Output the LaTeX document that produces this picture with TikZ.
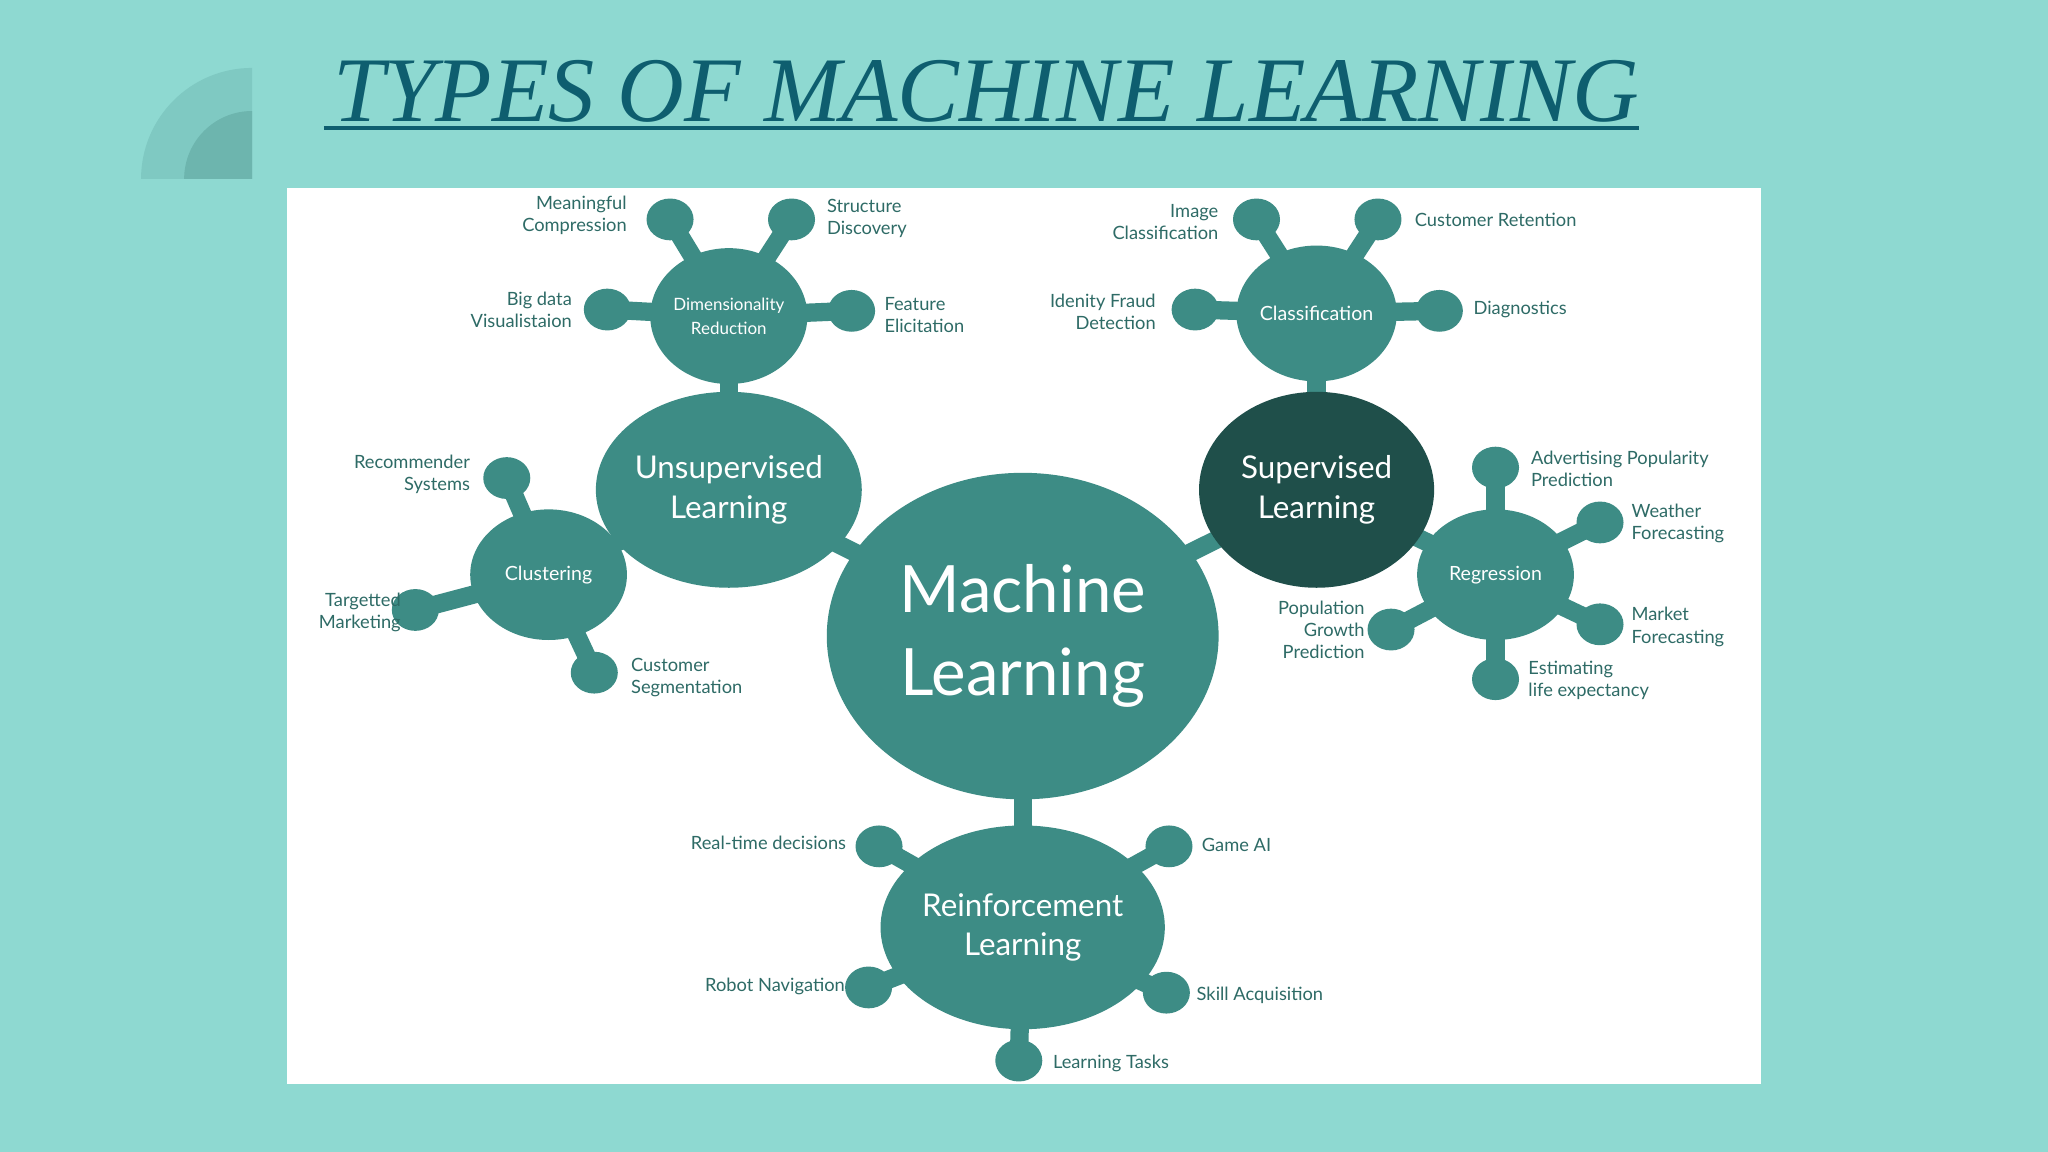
\documentclass[tikz,border=0pt]{standalone}
\usepackage{fontspec}
\setmainfont{Lato}
\newfontfamily\titlefont{Liberation Serif}
\usetikzlibrary{shapes.geometric}
\pgfdeclarelayer{bottom}\pgfdeclarelayer{background}
\pgfsetlayers{bottom,background,main}
\definecolor{bgteal}{HTML}{8ED9D1}
\definecolor{circ}{HTML}{3D8C85}
\definecolor{dark}{HTML}{1F4F4A}
\definecolor{lab}{HTML}{2E6B66}
\definecolor{ttl}{HTML}{0E5E6F}
\definecolor{deco1}{HTML}{7FC9C2}
\definecolor{deco2}{HTML}{6DB5AE}
\tikzset{
 big/.style={ellipse,fill=circ,text=white,align=center,inner sep=0pt},
 mid/.style={big,minimum width=180pt,minimum height=150pt,font=\fontsize{24}{30}\selectfont},
 sub/.style={big,minimum width=120pt,minimum height=104pt,font=\fontsize{15}{18}\selectfont},
 dot/.style={ellipse,fill=circ,minimum width=36pt,minimum height=32pt,inner sep=0pt},
 lbl/.style={text=lab,font=\fontsize{14}{17}\selectfont,inner sep=0pt},
 lr/.style={lbl,align=right,anchor=east},
 ll/.style={lbl,align=left,anchor=west},
 conn/.style={draw=circ,line width=14pt},
}
\begin{document}
\begin{tikzpicture}[x=1pt,y=-1pt]
\begin{pgfonlayer}{bottom}
\fill[bgteal] (0,0) rectangle (1568,882);
\fill[deco1] (193,137) -- (108,137) arc[start angle=180,end angle=270,radius=85] -- cycle;
\fill[deco2] (193,137) -- (141,137) arc[start angle=180,end angle=270,radius=52] -- cycle;
\fill[white] (220,144) rectangle (1348,830);
\end{pgfonlayer}
\node[text=ttl,inner sep=0pt] (title) at (755,70) {\resizebox{1000pt}{!}{\titlefont\itshape TYPES OF MACHINE LEARNING}};
\draw[ttl,line width=2.5pt] (248,98) -- (1255,98);

\node[big,minimum width=300pt,minimum height=250pt,font=\fontsize{50}{64}\selectfont] (ml) at (783,487) {Machine\\Learning};
\node[mid] (un) at (558,375) {Unsupervised\\Learning};
\node[mid,fill=dark] (su) at (1008,375) {Supervised\\Learning};
\node[mid,minimum height=156pt] (re) at (783,710) {Reinforcement\\Learning};
\node[sub] (dr) at (558,242) {\fontsize{13}{16}\selectfont Dimensionality\\\fontsize{13}{16}\selectfont Reduction};
\node[sub] (cl) at (1008,240) {Classification};
\node[sub,minimum height=100pt] (cu) at (420,440) {Clustering};
\node[sub,minimum height=100pt] (rg) at (1145,440) {Regression};

\node[dot] (d1) at (513,168) {};
\node[dot] (d2) at (606,168) {};
\node[dot] (d3) at (465,237) {};
\node[dot] (d4) at (652,238) {};
\node[dot] (c1) at (962,168) {};
\node[dot] (c2) at (1055,168) {};
\node[dot] (c3) at (915,237) {};
\node[dot] (c4) at (1102,238) {};
\node[dot] (k1) at (388,366) {};
\node[dot] (k2) at (318,467) {};
\node[dot] (k3) at (455,515) {};
\node[dot] (r1) at (1145,358) {};
\node[dot] (r2) at (1225,400) {};
\node[dot] (r3) at (1225,478) {};
\node[dot] (r4) at (1145,520) {};
\node[dot] (r5) at (1065,482) {};
\node[dot] (e1) at (673,648) {};
\node[dot] (e2) at (895,648) {};
\node[dot] (e3) at (665,756) {};
\node[dot] (e4) at (893,760) {};
\node[dot] (e5) at (780,812) {};

\begin{pgfonlayer}{background}
\foreach \a/\b in {ml/un,ml/su,ml/re,un/dr,un/cu,su/cl,su/rg,dr/d1,dr/d2,dr/d3,dr/d4,cl/c1,cl/c2,cl/c3,cl/c4,cu/k1,cu/k2,cu/k3,rg/r1,rg/r2,rg/r3,rg/r4,rg/r5,re/e1,re/e2,re/e3,re/e4,re/e5}
  \draw[conn] (\a.center) -- (\b.center);
\end{pgfonlayer}

\node[lr] (t1) at (480,165) {Meaningful\\Compression};
\node[ll] (t2) at (633,167) {Structure\\Discovery};
\node[lr] (t3) at (438,237) {Big data\\Visualistaion};
\node[ll] (t4) at (677,241) {Feature\\Elicitation};
\node[lr] (t5) at (933,170) {Image\\Classification};
\node[ll] (t6) at (1083,168) {Customer Retention};
\node[lr] (t7) at (885,239) {Idenity Fraud\\Detection};
\node[ll] (t8) at (1128,237) {Diagnostics};
\node[lr] (t9) at (360,363) {Recommender\\Systems};
\node[lr] (t10) at (307,469) {Targetted\\Marketing};
\node[ll] (t11) at (483,519) {Customer\\Segmentation};
\node[ll] (t12) at (1172,359) {Advertising Popularity\\Prediction};
\node[ll] (t13) at (1249,401) {Weather\\Forecasting};
\node[ll] (t14) at (1249,480) {Market\\Forecasting};
\node[ll] (t15) at (1170,521) {Estimating\\life expectancy};
\node[lr] (t16) at (1045,482) {Population\\Growth\\Prediction};
\node[lr] (t17) at (648,645) {Real-time decisions};
\node[ll] (t18) at (920,647) {Game AI};
\node[lr] (t19) at (647,755) {Robot Navigation};
\node[ll] (t20) at (916,762) {Skill Acquisition};
\node[ll] (t21) at (806,814) {Learning Tasks};
\end{tikzpicture}
\end{document}
